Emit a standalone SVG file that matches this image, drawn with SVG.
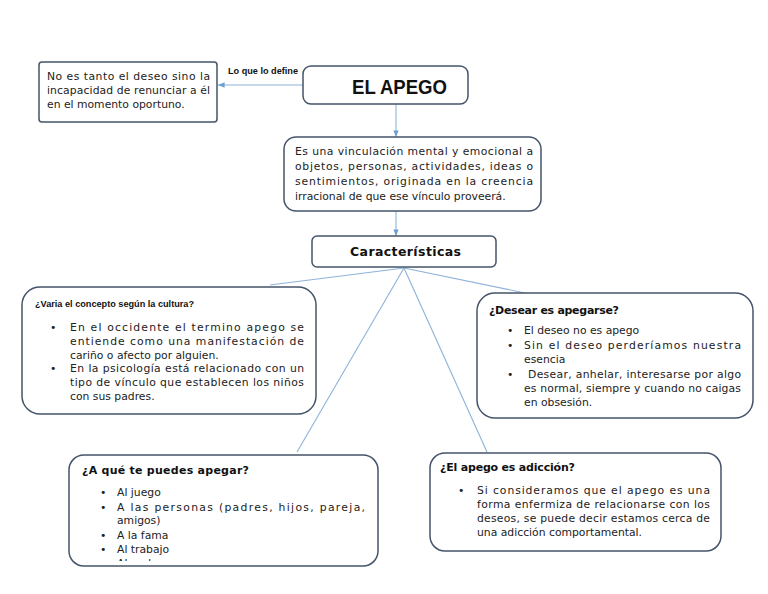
<svg xmlns="http://www.w3.org/2000/svg" width="768" height="594" viewBox="0 0 768 594">
<style>
.box{fill:#fff;stroke:#44546a;stroke-width:1.5}
.t{font-family:"DejaVu Sans",Verdana,sans-serif;font-size:10.8px;fill:#222}
.h{font-family:"DejaVu Sans",Verdana,sans-serif;font-weight:bold;fill:#111}
.c{font-family:"Liberation Sans",Arial,sans-serif;font-weight:bold;fill:#111}
.ln{stroke:#8eb2da;stroke-width:1.1;fill:none}
</style>
<defs>
<marker id="ah" viewBox="0 0 10 10" refX="10" refY="5" markerWidth="6" markerHeight="6" orient="auto">
<path d="M0,1 L10,5 L0,9 z" fill="#6f9fd2"/>
</marker>
<clipPath id="clipA"><rect x="69" y="455" width="310" height="106"/></clipPath>
</defs>
<rect width="768" height="594" fill="#fff"/>
<g id="connectors">
<line class="ln" x1="303" y1="85" x2="218" y2="85" marker-end="url(#ah)"/>
<line class="ln" x1="396" y1="104" x2="396" y2="137" marker-end="url(#ah)"/>
<line class="ln" x1="396" y1="211" x2="396" y2="236" marker-end="url(#ah)"/>
<line class="ln" x1="404" y1="268" x2="270" y2="285"/>
<line class="ln" x1="404" y1="268" x2="525" y2="293"/>
<line class="ln" x1="404" y1="268" x2="297" y2="452"/>
<line class="ln" x1="404" y1="268" x2="487" y2="452"/>
<text class="c" x="228" y="74" font-size="8.5" textLength="70" lengthAdjust="spacingAndGlyphs">Lo que lo define</text>
</g>
<g id="definicion-corta">
<rect class="box" x="39" y="62" width="178" height="60" rx="3"/>
<text class="t" x="47" y="80" textLength="163" lengthAdjust="spacing">No es tanto el deseo sino la</text>
<text class="t" x="47" y="94" textLength="163" lengthAdjust="spacing">incapacidad de renunciar a él</text>
<text class="t" x="47" y="108">en el momento oportuno.</text>
</g>
<g id="el-apego">
<rect class="box" x="303" y="66" width="165" height="38" rx="8"/>
<text class="c" x="352" y="94" font-size="21" textLength="95" lengthAdjust="spacingAndGlyphs">EL APEGO</text>
</g>
<g id="vinculacion">
<rect class="box" x="284" y="137" width="257" height="74" rx="12"/>
<text class="t" x="295" y="155" textLength="238" lengthAdjust="spacing">Es una vinculación mental y emocional a</text>
<text class="t" x="295" y="170" textLength="238" lengthAdjust="spacing">objetos, personas, actividades, ideas o</text>
<text class="t" x="295" y="185" textLength="238" lengthAdjust="spacing">sentimientos, originada en la creencia</text>
<text class="t" x="295" y="200">irracional de que ese vínculo proveerá.</text>
</g>
<g id="caracteristicas">
<rect class="box" x="312" y="236" width="184" height="31" rx="5"/>
<text class="h" x="350" y="256" font-size="12.5" textLength="111" lengthAdjust="spacing">Características</text>
</g>
<g id="cultura">
<rect class="box" x="22" y="287" width="294" height="127" rx="18"/>
<text class="c" x="35" y="307" font-size="9" textLength="159" lengthAdjust="spacingAndGlyphs">¿Varia el concepto según la cultura?</text>
<text class="t" x="50" y="331">•</text>
<text class="t" x="70" y="331" textLength="234" lengthAdjust="spacing">En el occidente el termino apego se</text>
<text class="t" x="70" y="345" textLength="234" lengthAdjust="spacing">entiende como una manifestación de</text>
<text class="t" x="70" y="359">cariño o afecto por alguien.</text>
<text class="t" x="50" y="372">•</text>
<text class="t" x="70" y="372" textLength="234" lengthAdjust="spacing">En la psicología está relacionado con un</text>
<text class="t" x="70" y="386" textLength="234" lengthAdjust="spacing">tipo de vínculo que establecen los niños</text>
<text class="t" x="70" y="400">con sus padres.</text>
</g>
<g id="desear">
<rect class="box" x="477" y="293" width="276" height="125" rx="18"/>
<text class="h" x="489" y="314" font-size="11" textLength="130" lengthAdjust="spacing">¿Desear es apegarse?</text>
<text class="t" x="507" y="334">•</text>
<text class="t" x="524" y="334">El deseo no es apego</text>
<text class="t" x="507" y="349">•</text>
<text class="t" x="524" y="349" textLength="217" lengthAdjust="spacing">Sin el deseo perderíamos nuestra</text>
<text class="t" x="524" y="363">esencia</text>
<text class="t" x="507" y="378">•</text>
<text class="t" x="528" y="378" textLength="213" lengthAdjust="spacing">Desear, anhelar, interesarse por algo</text>
<text class="t" x="524" y="392" textLength="217" lengthAdjust="spacing">es normal, siempre y cuando no caigas</text>
<text class="t" x="524" y="406">en obsesión.</text>
</g>
<g id="apegar">
<rect class="box" x="69" y="455" width="309" height="111" rx="15"/>
<text class="h" x="82" y="474" font-size="11" textLength="167" lengthAdjust="spacing">¿A qué te puedes apegar?</text>
<g clip-path="url(#clipA)">
<text class="t" x="100" y="496">•</text>
<text class="t" x="117" y="496">Al juego</text>
<text class="t" x="100" y="511">•</text>
<text class="t" x="117" y="511" textLength="248" lengthAdjust="spacing">A las personas (padres, hijos, pareja,</text>
<text class="t" x="117" y="524">amigos)</text>
<text class="t" x="100" y="539">•</text>
<text class="t" x="117" y="539">A la fama</text>
<text class="t" x="100" y="553">•</text>
<text class="t" x="117" y="553">Al trabajo</text>
<text class="t" x="100" y="567">•</text>
<text class="t" x="117" y="567">Al poder</text>
</g>
</g>
<g id="adiccion">
<rect class="box" x="430" y="453" width="291" height="98" rx="15"/>
<text class="h" x="440" y="471" font-size="11" textLength="135" lengthAdjust="spacing">¿El apego es adicción?</text>
<text class="t" x="458" y="494">•</text>
<text class="t" x="477" y="494" textLength="233" lengthAdjust="spacing">Si consideramos que el apego es una</text>
<text class="t" x="477" y="508" textLength="233" lengthAdjust="spacing">forma enfermiza de relacionarse con los</text>
<text class="t" x="477" y="522" textLength="233" lengthAdjust="spacing">deseos, se puede decir estamos cerca de</text>
<text class="t" x="477" y="536">una adicción comportamental.</text>
</g>
</svg>
